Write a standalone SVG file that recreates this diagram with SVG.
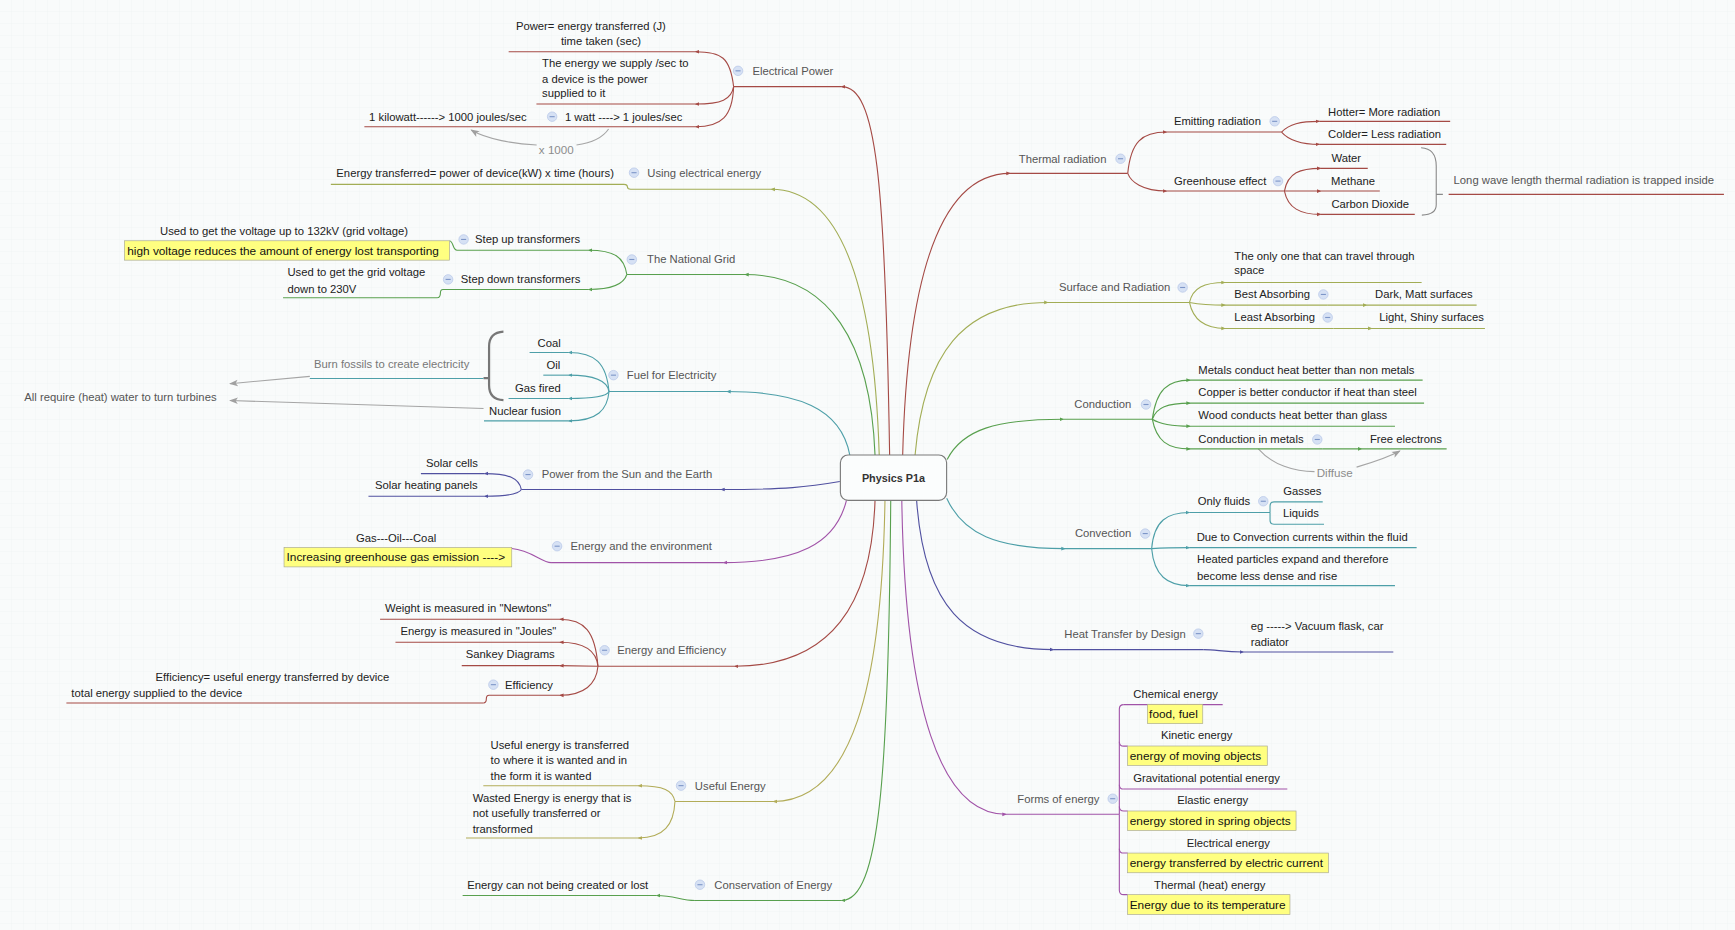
<svg xmlns="http://www.w3.org/2000/svg" xmlns:xlink="http://www.w3.org/1999/xlink" width="1735" height="930" viewBox="0 0 1735 930">
<style>
text{font-family:"Liberation Sans",Arial,sans-serif;font-size:10.2px;fill:#222}
.m{fill:#555}
.g{fill:#8c8c8c;font-size:10.5px}
.bx{font-size:10.7px;fill:#111}
.ctr{font-weight:bold;font-size:9.8px;fill:#333;text-anchor:middle}
.c{fill:none;stroke-width:1}
.r{stroke:#a54a45}.o{stroke:#a2ad55}.gr{stroke:#58a04e}.te{stroke:#4d9fa8}.b{stroke:#5050a0}.p{stroke:#a153a8}.y{stroke:#b2ac58}.gy{stroke:#a5a5a5}
.yb{fill:#ffff80;stroke:#a8a890;stroke-width:0.6}
</style>
<defs>
<pattern id="grid" width="12" height="12" patternUnits="userSpaceOnUse">
<rect width="12" height="12" fill="#f9fbfb"/>
<path d="M12,0 V12 H0" fill="none" stroke="#edf3f3" stroke-width="0.6"/>
</pattern>
<marker id="a-r" viewBox="0 0 6 6" refX="5" refY="3" markerWidth="4" markerHeight="4" orient="auto"><path d="M0,0.5 L6,3 L0,5.5z" fill="#a54a45"/></marker>
<marker id="a-o" viewBox="0 0 6 6" refX="5" refY="3" markerWidth="4" markerHeight="4" orient="auto"><path d="M0,0.5 L6,3 L0,5.5z" fill="#a2ad55"/></marker>
<marker id="a-gr" viewBox="0 0 6 6" refX="5" refY="3" markerWidth="4" markerHeight="4" orient="auto"><path d="M0,0.5 L6,3 L0,5.5z" fill="#58a04e"/></marker>
<marker id="a-te" viewBox="0 0 6 6" refX="5" refY="3" markerWidth="4" markerHeight="4" orient="auto"><path d="M0,0.5 L6,3 L0,5.5z" fill="#4d9fa8"/></marker>
<marker id="a-b" viewBox="0 0 6 6" refX="5" refY="3" markerWidth="4" markerHeight="4" orient="auto"><path d="M0,0.5 L6,3 L0,5.5z" fill="#5050a0"/></marker>
<marker id="a-p" viewBox="0 0 6 6" refX="5" refY="3" markerWidth="4" markerHeight="4" orient="auto"><path d="M0,0.5 L6,3 L0,5.5z" fill="#a153a8"/></marker>
<marker id="a-y" viewBox="0 0 6 6" refX="5" refY="3" markerWidth="4" markerHeight="4" orient="auto"><path d="M0,0.5 L6,3 L0,5.5z" fill="#b2ac58"/></marker>
<marker id="a-gy" viewBox="0 0 8 8" refX="7" refY="4" markerWidth="8" markerHeight="8" orient="auto"><path d="M0,1 L8,4 L0,7 L2,4z" fill="#a0a0a0"/></marker>
<g id="mi"><circle r="4.3" fill="#d6e1f4" stroke="#b3c4e6" stroke-width="0.6"/><path d="M-2.3,0 H2.3" stroke="#7d96c8" stroke-width="1"/></g>
</defs>
<rect width="1735" height="930" fill="url(#grid)"/>
<g transform="scale(1.1065 1.107)">

<g id="connectors">
<path class="c r" d="M804,411 C800,160 792,78.3 760.6,78.3" marker-end="url(#a-r)"/>
<path class="c o" d="M794.6,411 C790,260 760,171 697,171" marker-end="url(#a-o)"/>
<path class="c gr" d="M790.8,411 C787,310 750,248 673.3,248" marker-end="url(#a-gr)"/>
<path class="c te" d="M768,411 C760,368 720,353.7 657,353.7" marker-end="url(#a-te)"/>
<path class="c b" d="M759,435 C730,440 710,442.2 651.6,442.2" marker-end="url(#a-b)"/>
<path class="c p" d="M765,452 C755,492 720,508.2 653.9,508.2" marker-end="url(#a-p)"/>
<path class="c r" d="M790.8,452 C788,545 752,601.9 664,601.9" marker-end="url(#a-r)"/>
<path class="c y" d="M799.8,452 C797,620 770,724 698.9,724" marker-end="url(#a-y)"/>
<path class="c gr" d="M805,452 C803,700 795,813.4 760.7,813.4" marker-end="url(#a-gr)"/>
<path class="c r" d="M815.8,411 C820,250 850,156.6 912.8,156.6" marker-end="url(#a-r)"/>
<path class="c o" d="M827,411 C835,320 870,273.2 947,273.2" marker-end="url(#a-o)"/>
<path class="c gr" d="M856,415 C870,388 900,378.7 961,378.7" marker-end="url(#a-gr)"/>
<path class="c te" d="M855.6,450 C870,482 900,495.6 962.5,495.6" marker-end="url(#a-te)"/>
<path class="c b" d="M828.4,452 C835,545 870,586.8 952,586.8" marker-end="url(#a-b)"/>
<path class="c p" d="M815,452 C818,640 850,735.6 909.2,735.6" marker-end="url(#a-p)"/>
<path class="c r" d="M663,78.3 C660,52 652,46.7 628.6,46.7" marker-end="url(#a-r)"/>
<path class="c r" d="M663,78.3 C661,90 652,94 628.6,94" marker-end="url(#a-r)"/>
<path class="c r" d="M663,78.3 C662,105 652,114.5 628.6,114.5" marker-end="url(#a-r)"/>
<path class="c gy" d="M550,116.5 C545,124 535,129 521,131"/>
<path class="c gy" d="M485,131 C465,130 440,126 426,117.5" marker-end="url(#a-gy)"/>
<path class="c gr" d="M566.5,248 C564,232 555,226 532,226" marker-end="url(#a-gr)"/>
<path class="c gr" d="M566.5,248 C564,256 555,261.5 532,261.5" marker-end="url(#a-gr)"/>
<path class="c gr" d="M413,226 C409,226 410,218 406.2,217.5"/>
<path class="c te" d="M550.4,353.7 C548,328 538,318.4 514,318.4" marker-end="url(#a-te)"/>
<path class="c te" d="M550.4,353.7 C549,345 540,338.9 514,338.9" marker-end="url(#a-te)"/>
<path class="c te" d="M550.4,353.7 C549,357 540,360 514,360" marker-end="url(#a-te)"/>
<path class="c te" d="M550.4,353.7 C549,370 540,380.2 514,380.2" marker-end="url(#a-te)"/>
<path class="c gy" d="M280,340 L208,346.6" marker-end="url(#a-gy)"/>
<path class="c gy" d="M437,369 L208,361.8" marker-end="url(#a-gy)"/>
<path class="c b" d="M471.2,442.2 C469,432 460,427.8 438,427.8" marker-end="url(#a-b)"/>
<path class="c b" d="M471.2,442.2 C469,446 460,448.3 438,448.3" marker-end="url(#a-b)"/>
<path class="c p" d="M498,508.2 C490,508.2 480,497 462.5,495.5"/>
<path class="c r" d="M540.4,601.9 C538,570 528,559.4 506,559.4" marker-end="url(#a-r)"/>
<path class="c r" d="M540.4,601.9 C539,588 528,580.2 506,580.2" marker-end="url(#a-r)"/>
<path class="c r" d="M540.4,601.9 L506,601.3" marker-end="url(#a-r)"/>
<path class="c r" d="M540.4,601.9 C539,618 528,628.1 506,628.1" marker-end="url(#a-r)"/>
<path class="c y" d="M610,724 C608,714 600,709.8 576.9,709.8" marker-end="url(#a-y)"/>
<path class="c y" d="M610,724 C609,745 600,757 576.9,757" marker-end="url(#a-y)"/>
<path class="c gr" d="M628,813.4 C615,813.4 610,808.9 593.4,808.9" marker-end="url(#a-gr)"/>
<path class="c r" d="M1019.2,156.6 C1022,128 1032,119.3 1054.3,119.3" marker-end="url(#a-r)"/>
<path class="c r" d="M1019.2,156.6 C1022,164 1032,172.6 1054.3,172.6" marker-end="url(#a-r)"/>
<path class="c r" d="M1158.2,119.3 C1165,112 1175,109.6 1192.3,109.6" marker-end="url(#a-r)"/>
<path class="c r" d="M1158.2,119.3 C1165,127 1175,130.4 1192.3,130.4" marker-end="url(#a-r)"/>
<path class="c r" d="M1160.8,172.6 C1164,156 1175,152.1 1193.6,152.1" marker-end="url(#a-r)"/>
<path class="c r" d="M1160.8,172.6 L1193.6,172.6" marker-end="url(#a-r)"/>
<path class="c r" d="M1160.8,172.6 C1164,188 1175,193.7 1193.6,193.7" marker-end="url(#a-r)"/>
<path class="c o" d="M1075,273.2 C1078,260 1088,255.2 1107.1,255.2" marker-end="url(#a-o)"/>
<path class="c o" d="M1075,273.2 C1085,275 1095,275.6 1107.1,275.6" marker-end="url(#a-o)"/>
<path class="c o" d="M1075,273.2 C1078,288 1088,296.7 1107.1,296.7" marker-end="url(#a-o)"/>
<path class="c o" d="M1200,275.6 L1235.1,275.6" marker-end="url(#a-o)"/>
<path class="c o" d="M1205,296.7 L1239.7,296.7" marker-end="url(#a-o)"/>
<path class="c gr" d="M1041.4,378.7 C1045,352 1055,343.4 1075.5,343.4" marker-end="url(#a-gr)"/>
<path class="c gr" d="M1041.4,378.7 C1045,368 1055,364.2 1075.5,364.2" marker-end="url(#a-gr)"/>
<path class="c gr" d="M1041.4,378.7 C1048,383 1058,385 1075.5,385" marker-end="url(#a-gr)"/>
<path class="c gr" d="M1041.4,378.7 C1045,398 1055,405.5 1075.5,405.5" marker-end="url(#a-gr)"/>
<path class="c gr" d="M1195,405.5 L1230.6,405.5" marker-end="url(#a-gr)"/>
<path class="c gy" d="M1137.2,405.5 C1150,420 1170,426 1188,426"/>
<path class="c gy" d="M1226,422 C1240,418 1255,413 1265,407.5" marker-end="url(#a-gy)"/>
<path class="c te" d="M1040.8,495.6 C1043,470 1055,463 1074.9,463" marker-end="url(#a-te)"/>
<path class="c te" d="M1040.8,495.6 C1050,495 1060,494.7 1074.9,494.7" marker-end="url(#a-te)"/>
<path class="c te" d="M1040.8,495.6 C1043,520 1055,529 1074.9,529" marker-end="url(#a-te)"/>
<path class="c te" d="M1147.8,463 V457 Q1147.8,453.4 1151.4,453.4"/>
<path class="c te" d="M1147.8,463 V470 Q1147.8,473.6 1151.4,473.6"/>
<path class="c b" d="M1087.5,586.8 C1100,586.8 1105,589 1123.7,589" marker-end="url(#a-b)"/>
<path class="c p" d="M1011.6,735.6 V640.5 Q1011.6,636.5 1015.6,636.5"/>
<path class="c p" d="M1011.6,735.6 V804.2 Q1011.6,808.2 1015.6,808.2 H1019.1"/>
<path class="c p" d="M1011.6,670 Q1011.6,674 1015.6,674 H1019.1"/>
<path class="c p" d="M1011.6,708.8 Q1011.6,712.8 1015.6,712.8"/>
<path class="c p" d="M1011.6,728.6 Q1011.6,732.6 1015.6,732.6 H1019.1"/>
<path class="c p" d="M1011.6,766.6 Q1011.6,770.6 1015.6,770.6 H1019.1"/>
</g>

<g id="central">
<rect x="759.5" y="411" width="96" height="41" rx="7" fill="#fbfdfd" stroke="#7a7a7a" stroke-width="1"/>
<text class="ctr" x="807.5" y="435">Physics P1a</text>
</g>

<g id="electrical-power">
<path class="c r" d="M760.6,78.3 H663"/>
<use xlink:href="#mi" x="667" y="64"/>
<text class="m" x="680" y="67.5">Electrical Power</text>
</g>
<g id="power-formula">
<path class="c r" d="M628.6,46.7 H459.7"/>
<text x="466.3" y="27">Power= energy transferred (J)</text>
<text x="507" y="41">time taken (sec)</text>
</g>
<g id="energy-supply">
<path class="c r" d="M628.6,94 H484.8"/>
<text x="489.9" y="60.7">The energy we supply /sec to</text>
<text x="489.9" y="74.6">a device is the power</text>
<text x="489.9" y="87.9">supplied to it</text>
</g>
<g id="one-watt">
<path class="c r" d="M628.6,114.5 H329.3"/>
<use xlink:href="#mi" x="499" y="105.4"/>
<text x="510.6" y="109">1 watt ----&gt; 1 joules/sec</text>
</g>
<g id="one-kilowatt">
<text x="333.6" y="109">1 kilowatt------&gt; 1000 joules/sec</text>
</g>
<g id="x1000"><text class="g" x="487" y="139.5">x 1000</text></g>

<g id="using-electrical-energy">
<path class="c o" d="M697,171 H570 Q567,171 567,168.8 Q567,166.6 564,166.6"/>
<use xlink:href="#mi" x="573" y="156"/>
<text class="m" x="585" y="159.5">Using electrical energy</text>
</g>
<g id="energy-transferred">
<path class="c o" d="M564,166.6 H299"/>
<text x="304" y="159.5">Energy transferred= power of device(kW) x time (hours)</text>
</g>

<g id="national-grid">
<path class="c gr" d="M673.3,248 H566.5"/>
<use xlink:href="#mi" x="571" y="234.4"/>
<text class="m" x="584.8" y="237.9">The National Grid</text>
</g>
<g id="step-up">
<path class="c gr" d="M532,226 H413"/>
<use xlink:href="#mi" x="419" y="216.3"/>
<text x="429.3" y="219.8">Step up transformers</text>
</g>
<g id="step-up-note">
<text x="144.6" y="212">Used to get the voltage up to 132kV (grid voltage)</text>
<rect class="yb" x="112.5" y="217.5" width="293.7" height="17.5"/>
<text class="bx" x="115" y="230">high voltage reduces the amount of energy lost transporting</text>
</g>
<g id="step-down">
<path class="c gr" d="M532,261.5 H400.3 Q398,261.5 398,265 Q398,269 395,269"/>
<use xlink:href="#mi" x="405" y="252.4"/>
<text x="416.4" y="256">Step down transformers</text>
</g>
<g id="step-down-note">
<path class="c gr" d="M395,269 H255.8"/>
<text x="259.8" y="249.3">Used to get the grid voltage</text>
<text x="259.8" y="264.4">down to 230V</text>
</g>

<g id="fuel">
<path class="c te" d="M657,353.7 H550.4"/>
<use xlink:href="#mi" x="554.4" y="338.9"/>
<text class="m" x="566.5" y="342.4">Fuel for Electricity</text>
</g>
<g id="coal"><path class="c te" d="M514,318.4 H478.6"/><text x="485.8" y="313.2">Coal</text></g>
<g id="oil"><path class="c te" d="M514,338.9 H491"/><text x="494" y="333.4">Oil</text></g>
<g id="gas"><path class="c te" d="M514,360 H459.6"/><text x="465.5" y="354.5">Gas fired</text></g>
<g id="nuclear"><path class="c te" d="M514,380.2 H437.4"/><text x="442" y="375">Nuclear fusion</text></g>
<g id="brace"><path d="M455,299.5 C446,300 442,305 442,313 L442,348 C442,356 446,361 455,361.5 M442,341.6 H437" fill="none" stroke="#777" stroke-width="2"/></g>
<g id="burn-fossils">
<path class="c te" d="M437,341.9 H280"/>
<text x="283.8" y="332.5" style="fill:#777">Burn fossils to create electricity</text>
</g>
<g id="all-require"><text class="m" x="22" y="362">All require (heat) water to turn turbines</text></g>

<g id="sun-earth">
<path class="c b" d="M651.6,442.2 H471.2"/>
<use xlink:href="#mi" x="477.2" y="428.7"/>
<text class="m" x="489.7" y="432.2">Power from the Sun and the Earth</text>
</g>
<g id="solar-cells"><path class="c b" d="M438,427.8 H380.4"/><text x="385" y="422.2">Solar cells</text></g>
<g id="solar-panels"><path class="c b" d="M438,448.3 H333"/><text x="338.9" y="441.8">Solar heating panels</text></g>

<g id="environment">
<path class="c p" d="M653.9,508.2 H498"/>
<use xlink:href="#mi" x="503.5" y="493.4"/>
<text class="m" x="515.5" y="496.9">Energy and the environment</text>
</g>
<g id="greenhouse-gas">
<text x="321.8" y="490">Gas---Oil---Coal</text>
<rect class="yb" x="256.7" y="494.6" width="205.8" height="17.5"/>
<text class="bx" x="259" y="507">Increasing greenhouse gas emission ----&gt;</text>
</g>

<g id="efficiency-topic">
<path class="c r" d="M664,601.9 H540.4"/>
<use xlink:href="#mi" x="546.4" y="587.4"/>
<text class="m" x="557.9" y="590.9">Energy and Efficiency</text>
</g>
<g id="weight"><path class="c r" d="M506,559.4 H343.5"/><text x="348" y="552.7">Weight is measured in "Newtons"</text></g>
<g id="energy-joules"><path class="c r" d="M506,580.2 H357.4"/><text x="362" y="573.8">Energy is measured in "Joules"</text></g>
<g id="sankey"><path class="c r" d="M506,601.3 H417.3"/><text x="421" y="594.5">Sankey Diagrams</text></g>
<g id="efficiency">
<path class="c r" d="M506,628.1 H442 Q439.5,628.1 439.5,631.5 Q439.5,635 437,635"/>
<use xlink:href="#mi" x="445.9" y="618.5"/>
<text x="456.4" y="622">Efficiency</text>
</g>
<g id="efficiency-formula">
<path class="c r" d="M437,635 H60"/>
<text x="140.6" y="615.6">Efficiency= useful energy transferred by device</text>
<text x="64.5" y="629.2">total energy supplied to the device</text>
</g>

<g id="useful-energy">
<path class="c y" d="M698.9,724 H610"/>
<use xlink:href="#mi" x="615.5" y="709.7"/>
<text class="m" x="628" y="713.2">Useful Energy</text>
</g>
<g id="useful-def">
<path class="c y" d="M576.9,709.8 H436.8"/>
<text x="443.4" y="676.2">Useful energy is transferred</text>
<text x="443.4" y="690.6">to where it is wanted and in</text>
<text x="443.4" y="704.2">the form it is wanted</text>
</g>
<g id="wasted-def">
<path class="c y" d="M576.9,757 H421.1"/>
<text x="427.2" y="724.4">Wasted Energy is energy that is</text>
<text x="427.2" y="737.6">not usefully transferred or</text>
<text x="427.2" y="752.1">transformed</text>
</g>

<g id="conservation">
<path class="c gr" d="M760.7,813.4 H628"/>
<use xlink:href="#mi" x="632.6" y="799.2"/>
<text class="m" x="645.6" y="802.7">Conservation of Energy</text>
</g>
<g id="not-created"><path class="c gr" d="M593.4,808.9 H418.1"/><text x="422.3" y="802.7">Energy can not being created or lost</text></g>

<g id="thermal-radiation">
<path class="c r" d="M912.8,156.6 H1019.2"/>
<use xlink:href="#mi" x="1012.7" y="143.4"/>
<text class="m" x="920.7" y="146.9">Thermal radiation</text>
</g>
<g id="emitting">
<path class="c r" d="M1054.3,119.3 H1158.2"/>
<use xlink:href="#mi" x="1152" y="109.6"/>
<text x="1060.9" y="113.1">Emitting radiation</text>
</g>
<g id="hotter"><path class="c r" d="M1192.3,109.6 H1310.6"/><text x="1200.2" y="104.4">Hotter= More radiation</text></g>
<g id="colder"><path class="c r" d="M1192.3,130.4 H1307"/><text x="1200.2" y="124.9">Colder= Less radiation</text></g>
<g id="greenhouse-effect">
<path class="c r" d="M1054.3,172.6 H1160.8"/>
<use xlink:href="#mi" x="1155" y="163.6"/>
<text x="1060.9" y="167.1">Greenhouse effect</text>
</g>
<g id="water"><path class="c r" d="M1193.6,152.1 H1236.1"/><text x="1203.3" y="146.6">Water</text></g>
<g id="methane"><path class="c r" d="M1193.6,172.6 H1247"/><text x="1203" y="167.1">Methane</text></g>
<g id="co2"><path class="c r" d="M1193.6,193.7 H1278.6"/><text x="1203.3" y="188.2">Carbon Dioxide</text></g>
<g id="gh-brace"><path d="M1284.3,133.5 C1294,134 1298,140 1298,150 L1298,185 C1298,191 1294,194 1285,194.3 M1298,175.6 H1304" fill="none" stroke="#8a8a8a" stroke-width="1"/></g>
<g id="long-wave">
<path class="c r" d="M1309.2,175.6 H1558"/>
<text class="m" x="1313.7" y="166.2">Long wave length thermal radiation is trapped inside</text>
</g>

<g id="surface-radiation">
<path class="c o" d="M947,273.2 H1075"/>
<use xlink:href="#mi" x="1068.8" y="259.7"/>
<text class="m" x="957" y="263.2">Surface and Radiation</text>
</g>
<g id="only-one"><path class="c o" d="M1107.1,255.2 H1284.8"/><text x="1115.5" y="234.9">The only one that can travel through</text><text x="1115.5" y="247.5">space</text></g>
<g id="best-absorbing"><path class="c o" d="M1107.1,275.6 H1200"/><use xlink:href="#mi" x="1196" y="266"/><text x="1115.5" y="269.5">Best Absorbing</text></g>
<g id="dark-matt"><path class="c o" d="M1235.1,275.6 H1334.5"/><text x="1242.7" y="269.5">Dark, Matt surfaces</text></g>
<g id="least-absorbing"><path class="c o" d="M1107.1,296.7 H1205"/><use xlink:href="#mi" x="1199.9" y="286.8"/><text x="1115.5" y="290.3">Least Absorbing</text></g>
<g id="light-shiny"><path class="c o" d="M1239.7,296.7 H1342"/><text x="1246.5" y="290.3">Light, Shiny surfaces</text></g>

<g id="conduction">
<path class="c gr" d="M961,378.7 H1041.4"/>
<use xlink:href="#mi" x="1035.7" y="365.4"/>
<text class="m" x="970.9" y="368.9">Conduction</text>
</g>
<g id="metals"><path class="c gr" d="M1075.5,343.4 H1285.7"/><text x="1083" y="337.9">Metals conduct heat better than non metals</text></g>
<g id="copper"><path class="c gr" d="M1075.5,364.2 H1287"/><text x="1083" y="358.1">Copper is better conductor if heat than steel</text></g>
<g id="wood"><path class="c gr" d="M1075.5,385 H1260.7"/><text x="1083" y="378.5">Wood conducts heat better than glass</text></g>
<g id="conduction-metals"><path class="c gr" d="M1075.5,405.5 H1195"/><use xlink:href="#mi" x="1190.5" y="397"/><text x="1083" y="400.5">Conduction in metals</text></g>
<g id="free-electrons"><path class="c gr" d="M1230.6,405.5 H1307.4"/><text x="1238.1" y="400.5">Free electrons</text></g>
<g id="diffuse"><text class="g" x="1190" y="430.7">Diffuse</text></g>

<g id="convection">
<path class="c te" d="M962.5,495.6 H1040.8"/>
<use xlink:href="#mi" x="1035" y="482"/>
<text class="m" x="971.5" y="485.5">Convection</text>
</g>
<g id="only-fluids"><path class="c te" d="M1074.9,463 H1147.8"/><use xlink:href="#mi" x="1141.7" y="452.8"/><text x="1082.4" y="456.3">Only fluids</text></g>
<g id="gasses"><path class="c te" d="M1151.4,453.4 H1195.4"/><text x="1159.8" y="447.2">Gasses</text></g>
<g id="liquids"><path class="c te" d="M1151.4,473.6 H1196.6"/><text x="1159.6" y="467.4">Liquids</text></g>
<g id="currents"><path class="c te" d="M1074.9,494.7 H1280.3"/><text x="1081.5" y="489.1">Due to Convection currents within the fluid</text></g>
<g id="heated"><path class="c te" d="M1074.9,529 H1260.7"/><text x="1081.8" y="508.7">Heated particles expand and therefore</text><text x="1081.8" y="523.5">become less dense and rise</text></g>

<g id="heat-transfer-design">
<path class="c b" d="M952,586.8 H1087.5"/>
<use xlink:href="#mi" x="1083" y="572.4"/>
<text class="m" x="961.9" y="575.9">Heat Transfer by Design</text>
</g>
<g id="vacuum-flask"><path class="c b" d="M1123.7,589 H1259.2"/><text x="1130.3" y="569.3">eg -----&gt; Vacuum flask, car</text><text x="1130.3" y="584">radiator</text></g>

<g id="forms-of-energy">
<path class="c p" d="M909.2,735.6 H1011.6"/>
<use xlink:href="#mi" x="1005.6" y="721.5"/>
<text class="m" x="919.4" y="725">Forms of energy</text>
</g>
<g id="chemical"><path class="c p" d="M1015.6,636.5 H1105"/><text x="1024.2" y="630.1">Chemical energy</text><rect class="yb" x="1036.9" y="636.2" width="50.1" height="17.5"/><text class="bx" x="1038.5" y="648.6">food, fuel</text></g>
<g id="kinetic"><text x="1049.3" y="667.8">Kinetic energy</text><rect class="yb" x="1019.1" y="673.9" width="126.2" height="17.5"/><text class="bx" x="1021" y="686.3">energy of moving objects</text></g>
<g id="gravitational"><path class="c p" d="M1015.6,712.8 H1163.4"/><text x="1024.2" y="706">Gravitational potential energy</text></g>
<g id="elastic"><text x="1064" y="726.5">Elastic energy</text><rect class="yb" x="1019.1" y="732.6" width="152.2" height="17.5"/><text class="bx" x="1021" y="745">energy stored in spring objects</text></g>
<g id="electrical-energy"><text x="1072.5" y="764.8">Electrical energy</text><rect class="yb" x="1019.1" y="770.6" width="181.4" height="17.8"/><text class="bx" x="1021" y="783.2">energy transferred by electric current</text></g>
<g id="thermal-energy"><text x="1043" y="802.7">Thermal (heat) energy</text><rect class="yb" x="1019.1" y="808.2" width="146.7" height="17.8"/><text class="bx" x="1021" y="820.8">Energy due to its temperature</text></g>

</g>
</svg>
